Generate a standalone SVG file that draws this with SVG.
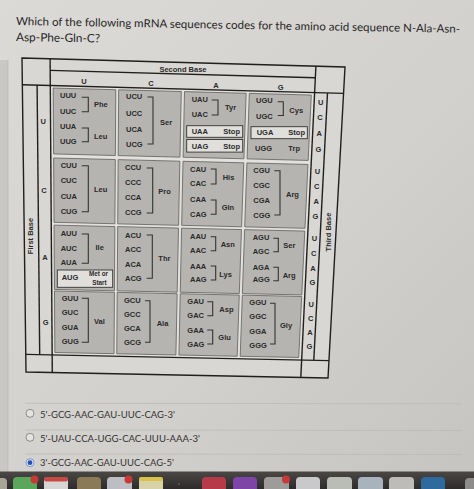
<svg xmlns="http://www.w3.org/2000/svg" width="474" height="489" viewBox="0 0 474 489">
<defs>
<linearGradient id="bg" x1="0" y1="0" x2="1" y2="1">
<stop offset="0" stop-color="#dcdad6"/>
<stop offset="0.55" stop-color="#d3d1cd"/>
<stop offset="1" stop-color="#c6c4c0"/>
</linearGradient>
<linearGradient id="dock" x1="0" y1="0" x2="0" y2="1">
<stop offset="0" stop-color="#4a4745"/>
<stop offset="1" stop-color="#2e2c2b"/>
</linearGradient>
</defs>
<style>
.cell{fill:#b6b4b0;stroke:#6c6a67;stroke-width:0.9}
.frame{fill:none;stroke:#1f1f1f;stroke-width:1.4}
.t{font-family:"Liberation Sans",Arial,sans-serif;font-size:7.5px;font-weight:bold;fill:#2a2a2a}
.s{font-size:6.3px}
.m{text-anchor:middle}
.e{text-anchor:end}
.br{fill:none;stroke:#333;stroke-width:1.1}
.box{fill:#e0dfdc;stroke:#333;stroke-width:0.9}
.q{font-family:Lato,"Open Sans",sans-serif;fill:#262626}
.opt{font-size:9.5px;fill:#333}
.sep{stroke:#bcbab6;stroke-width:0.8}
.icon{stroke:none}
</style>

<rect x="0" y="0" width="474" height="489" fill="url(#bg)"/>
<rect x="0" y="60" width="8" height="412" fill="#cac8c4"/>
<line x1="8" y1="60" x2="8" y2="472" stroke="#bab8b4" stroke-width="0.7"/>

<g id="question" class="q">
<text x="16" y="25" font-size="11.2" textLength="444" lengthAdjust="spacingAndGlyphs" transform="rotate(1 16 25)">Which of the following mRNA sequences codes for the amino acid sequence N-Ala-Asn-</text>
<text x="16" y="41" font-size="11.6" textLength="84" lengthAdjust="spacingAndGlyphs" transform="rotate(1 16 41)">Asp-Phe-Gln-C?</text>
</g>

<g id="table">
<polygon points="22,58 345,67 328,378 26,372" fill="#d8d7d3"/>
<polygon points="50.3,85.5 314.7,92.7 301.7,360 52.2,355" fill="#e2e1de"/>
</g>

<g id="cells">
<g id="cell-UU"><polygon class="cell" points="53.19,88.04 115.80,89.74 115.35,155.50 53.61,153.92"/>
<text class="t" x="60" y="97.7">UUU</text><text class="t" x="60" y="113.7">UUC</text><text class="t" x="60" y="129.4">UUA</text><text class="t" x="60" y="144.4">UUG</text>
<path class="br" d="M81.7 97.3H88.3V111.7H81.7"/><text class="t" x="94" y="107">Phe</text>
<path class="br" d="M81.7 128H88.3V141.7H81.7"/><text class="t" x="94" y="138.7">Leu</text></g>
<g id="cell-UC"><polygon class="cell" points="118.69,89.82 181.29,91.52 179.95,157.15 118.20,155.57"/>
<text class="t" x="126" y="99.4">UCU</text><text class="t" x="126" y="116">UCC</text><text class="t" x="126" y="131.7">UCA</text><text class="t" x="126" y="147">UCG</text>
<path class="br" d="M147.5 97H153V144H147.5"/><text class="t" x="160" y="125">Ser</text></g>
<g id="cell-UA"><polygon class="cell" points="184.50,91.61 246.14,93.28 243.90,158.78 183.11,157.23"/>
<text class="t" x="191.7" y="101.7">UAU</text><text class="t" x="191.7" y="117">UAC</text>
<path class="br" d="M211.7 100H218V115H211.7"/><text class="t" x="225" y="110.4">Tyr</text>
<rect class="box" x="186.7" y="125.7" width="56" height="11.6"/><text class="t" x="191.7" y="133.8">UAA</text><text class="t e" x="240" y="134.4">Stop</text>
<rect class="box" x="186.7" y="139.5" width="56" height="12.6"/><text class="t" x="191.7" y="148.7">UAG</text><text class="t e" x="240" y="149.2">Stop</text></g>
<g id="cell-UG"><polygon class="cell" points="249.35,93.37 311.31,95.05 308.18,160.42 247.07,158.86"/>
<text class="t" x="256" y="103.4">UGU</text><text class="t" x="256" y="118.7">UGC</text>
<path class="br" d="M277.7 101.7H283.3V115.5H277.7"/><text class="t" x="289.3" y="112.7">Cys</text>
<rect class="box" x="251" y="126.7" width="56.3" height="12"/><text class="t" x="256.7" y="135">UGA</text><text class="t e" x="305" y="135.4">Stop</text>
<text class="t" x="255" y="151">UGG</text><text class="t" x="288.3" y="151">Trp</text></g>

<g id="cell-CU"><polygon class="cell" points="53.63,158.00 115.33,159.57 114.89,223.76 54.04,222.31"/>
<text class="t" x="60.7" y="168.4">CUU</text><text class="t" x="60.7" y="183.4">CUC</text><text class="t" x="60.7" y="198.7">CUA</text><text class="t" x="60.7" y="213.7">CUG</text>
<path class="br" d="M81.7 165.7H88.3V211.7H81.7"/><text class="t" x="94" y="192">Leu</text></g>
<g id="cell-CC"><polygon class="cell" points="118.17,159.64 179.86,161.21 178.55,225.29 117.70,223.83"/>
<text class="t" x="125" y="170">CCU</text><text class="t" x="125" y="185">CCC</text><text class="t" x="125" y="200">CCA</text><text class="t" x="125" y="215">CCG</text>
<path class="br" d="M146.7 168H152.7V213H146.7"/><text class="t" x="158.3" y="193.7">Pro</text></g>
<g id="cell-CA"><polygon class="cell" points="183.03,161.29 243.77,162.84 241.59,226.78 181.67,225.35"/>
<text class="t" x="190" y="171.7">CAU</text><text class="t" x="190" y="186">CAC</text>
<path class="br" d="M210.7 169H216V184H210.7"/><text class="t" x="222.7" y="180.4">His</text>
<text class="t" x="190" y="202">CAA</text><text class="t" x="190" y="216.7">CAG</text>
<path class="br" d="M210.7 200H216V214.3H210.7"/><text class="t" x="221.7" y="210.4">Gln</text></g>
<g id="cell-CG"><polygon class="cell" points="246.93,162.92 307.99,164.47 304.94,228.29 244.71,226.85"/>
<text class="t" x="253.3" y="173.4">CGU</text><text class="t" x="253.3" y="188.4">CGC</text><text class="t" x="253.3" y="203.4">CGA</text><text class="t" x="253.3" y="218.4">CGG</text>
<path class="br" d="M274.3 170.7H280V215H274.3"/><text class="t" x="286" y="196.7">Arg</text></g>

<g id="cell-AU"><polygon class="cell" points="54.06,225.13 114.87,226.58 114.44,290.77 54.47,289.44"/>
<text class="t" x="60.7" y="236">AUU</text><text class="t" x="60.7" y="251">AUC</text><text class="t" x="60.7" y="265.4">AUA</text>
<path class="br" d="M81.7 234H88.3V263.3H81.7"/><text class="t" x="95.5" y="250.4">Ile</text>
<rect class="box" x="57.3" y="270" width="55.4" height="17.3"/><text class="t" x="61.7" y="280.3">AUG</text>
<text class="t s m" x="98.5" y="276">Met or</text><text class="t s m" x="99.5" y="285.2">Start</text></g>
<g id="cell-AC"><polygon class="cell" points="117.68,226.64 178.50,228.09 177.18,292.15 117.21,290.83"/>
<text class="t" x="125" y="237.7">ACU</text><text class="t" x="125" y="252">ACC</text><text class="t" x="125" y="266.7">ACA</text><text class="t" x="125" y="281">ACG</text>
<path class="br" d="M146.7 235H152.3V278.3H146.7"/><text class="t" x="158.3" y="261">Thr</text></g>
<g id="cell-AA"><polygon class="cell" points="181.61,228.16 241.49,229.58 239.31,293.53 180.26,292.22"/>
<text class="t" x="190" y="238.7">AAU</text><text class="t" x="190" y="253.4">AAC</text>
<path class="br" d="M210.7 236.7H215.7V250.7H210.7"/><text class="t" x="220.7" y="247.4">Asn</text>
<text class="t" x="190" y="269.4">AAA</text><text class="t" x="190" y="282">AAG</text>
<path class="br" d="M210.7 266H215.7V280H210.7"/><text class="t" x="219.3" y="277">Lys</text></g>
<g id="cell-AG"><polygon class="cell" points="244.61,229.66 304.80,231.09 301.75,294.91 242.39,293.59"/>
<text class="t" x="252.7" y="240">AGU</text><text class="t" x="252.7" y="254.4">AGC</text>
<path class="br" d="M273.3 238.3H278.3V251.7H273.3"/><text class="t" x="283.3" y="248.4">Ser</text>
<text class="t" x="252.7" y="270">AGA</text><text class="t" x="252.7" y="282">AGG</text>
<path class="br" d="M273.3 267.3H278.3V280.7H273.3"/><text class="t" x="282.7" y="278.4">Arg</text></g>

<g id="cell-GU"><polygon class="cell" points="54.48,291.01 114.43,292.33 114.02,353.71 54.87,352.50"/>
<text class="t" x="61.7" y="301">GUU</text><text class="t" x="61.7" y="315.4">GUC</text><text class="t" x="61.7" y="329.7">GUA</text><text class="t" x="61.7" y="344">GUG</text>
<path class="br" d="M81.7 298.3H88.3V342.3H81.7"/><text class="t" x="94" y="323.7">Val</text></g>
<g id="cell-GC"><polygon class="cell" points="117.20,292.39 177.15,293.72 175.90,354.97 116.75,353.76"/>
<text class="t" x="124" y="302.7">GCU</text><text class="t" x="124" y="317">GCC</text><text class="t" x="124" y="331">GCA</text><text class="t" x="124" y="345">GCG</text>
<path class="br" d="M145 300.7H150V342.3H145"/><text class="t" x="156.7" y="326">Ala</text></g>
<g id="cell-GA"><polygon class="cell" points="180.23,293.78 239.26,295.09 237.18,356.22 178.93,355.03"/>
<text class="t" x="187.3" y="304.4">GAU</text><text class="t" x="187.3" y="318.4">GAC</text>
<path class="br" d="M207.3 301.7H212.7V315.7H207.3"/><text class="t" x="219.3" y="312">Asp</text>
<text class="t" x="187.3" y="332.7">GAA</text><text class="t" x="187.3" y="346.7">GAG</text>
<path class="br" d="M207.3 330H212.7V344H207.3"/><text class="t" x="218.3" y="340.4">Glu</text></g>
<g id="cell-GG"><polygon class="cell" points="242.33,295.15 301.67,296.46 298.75,357.48 240.21,356.28"/>
<text class="t" x="249.3" y="305.4">GGU</text><text class="t" x="249.3" y="319.4">GGC</text><text class="t" x="249.3" y="333.7">GGA</text><text class="t" x="249.3" y="348">GGG</text>
<path class="br" d="M270 303.3H275V344H270"/><text class="t" x="280" y="327.7">Gly</text></g>
</g>

<g id="frame-lines" class="frame">
<polygon points="22,58 345,67 328,378 26,372"/>
<line x1="50.1" y1="58.8" x2="52.3" y2="372.5"/>
<line x1="315.9" y1="66.2" x2="300.8" y2="377.5"/>
<line x1="50.2" y1="70.4" x2="315.4" y2="77.7"/>
<line x1="22.3" y1="84.7" x2="343.6" y2="93.4"/>
<line x1="25.8" y1="354.4" x2="329" y2="360.6"/>
<line x1="37.1" y1="85.1" x2="39.7" y2="354.7"/>
<line x1="327.5" y1="93" x2="313.8" y2="360.3"/>
</g>

<g id="headers">
<text class="t m" x="183" y="72">Second Base</text>
<text class="t m" x="84" y="84.4">U</text>
<text class="t m" x="151" y="86.4">C</text>
<text class="t m" x="216" y="87.7">A</text>
<text class="t m" x="280.7" y="89.7">G</text>
<text class="t m" transform="translate(33,236) rotate(-90)">First Base</text>
<text class="t m" x="43.3" y="123.7">U</text>
<text class="t m" x="44" y="192.7">C</text>
<text class="t m" x="45" y="260">A</text>
<text class="t m" x="45.7" y="325.4">G</text>
<text class="t m" transform="translate(331,232) rotate(-90)">Third Base</text>
<text class="t m" x="320.7" y="105.4">U</text>
<text class="t m" x="320" y="120.4">C</text>
<text class="t m" x="319.3" y="135.7">A</text>
<text class="t m" x="318.5" y="151.7">G</text>
<text class="t m" x="317.5" y="174.4">U</text>
<text class="t m" x="316.8" y="189.4">C</text>
<text class="t m" x="316.1" y="204.4">A</text>
<text class="t m" x="315.4" y="219.4">G</text>
<text class="t m" x="314.4" y="240.7">U</text>
<text class="t m" x="313.7" y="255.7">C</text>
<text class="t m" x="313" y="270.7">A</text>
<text class="t m" x="312.3" y="285.4">G</text>
<text class="t m" x="311.3" y="306.7">U</text>
<text class="t m" x="310.6" y="320.7">C</text>
<text class="t m" x="309.9" y="335.4">A</text>
<text class="t m" x="309.3" y="348.7">G</text>
</g>

<g id="options">
<line class="sep" x1="25" y1="403.3" x2="462" y2="403.8"/>
<line class="sep" x1="25" y1="430" x2="462" y2="430.5"/>
<line class="sep" x1="25" y1="454" x2="462" y2="454.5"/>
<g id="opt1"><circle cx="30" cy="413.3" r="4" fill="#e4e3e0" stroke="#7a7875" stroke-width="0.8"/>
<text class="q opt" x="40" y="417.6" textLength="135" lengthAdjust="spacingAndGlyphs">5'-GCG-AAC-GAU-UUC-CAG-3'</text></g>
<g id="opt2"><circle cx="30" cy="437.3" r="4" fill="#e4e3e0" stroke="#7a7875" stroke-width="0.8"/>
<text class="q opt" x="40" y="441.6" textLength="160" lengthAdjust="spacingAndGlyphs">5'-UAU-CCA-UGG-CAC-UUU-AAA-3'</text></g>
<g id="opt3"><circle cx="30" cy="462.7" r="4" fill="#dfe3ea" stroke="#6b86c4" stroke-width="0.8"/><circle cx="30" cy="462.7" r="2.4" fill="#2350c0"/>
<text class="q opt" x="40" y="466" textLength="134" lengthAdjust="spacingAndGlyphs">3'-GCG-AAC-GAU-UUC-CAG-5'</text></g>
</g>

<g id="dock">
<rect x="0" y="471.5" width="474" height="17.5" fill="url(#dock)"/>
<rect class="icon" x="-6" y="478" width="13" height="16" rx="4" fill="#a9a596"/>
<rect class="icon" x="13" y="477" width="24" height="16" rx="4" fill="#5aa65a"/>
<circle cx="34.5" cy="479.5" r="4" fill="#c43a36"/>
<rect class="icon" x="44" y="477" width="24" height="16" rx="4" fill="#d8d6d4"/>
<rect class="icon" x="44" y="477" width="24" height="4.5" rx="2" fill="#c84a44"/>
<rect class="icon" x="77" y="477" width="24" height="16" rx="4" fill="#8a7a58"/>
<rect class="icon" x="107" y="477" width="25" height="16" rx="4" fill="#bdbdc4"/>
<circle cx="128.5" cy="479.5" r="4" fill="#c43a36"/>
<rect class="icon" x="139" y="477" width="24" height="16" rx="4" fill="#d8d2a8"/>
<rect class="icon" x="139" y="477" width="24" height="4" rx="2" fill="#d9c24a"/>
<circle cx="179" cy="484" r="0.8" fill="#777"/>
<rect class="icon" x="202" y="477" width="24" height="16" rx="4" fill="#b63a48"/>
<rect class="icon" x="233" y="477" width="24" height="16" rx="4" fill="#7f44a8"/>
<rect class="icon" x="264" y="477" width="25" height="16" rx="4" fill="#9e9c9a"/>
<circle cx="286" cy="479.5" r="4" fill="#c43a36"/>
<rect class="icon" x="296" y="477" width="24" height="16" rx="4" fill="#c9c9cc"/>
<rect class="icon" x="327" y="477" width="25" height="16" rx="4" fill="#b9bdb6"/>
<rect class="icon" x="358" y="477" width="25" height="16" rx="4" fill="#a9b3be"/>
<rect class="icon" x="389" y="477" width="25" height="16" rx="4" fill="#bdbcb9"/>
<rect class="icon" x="421" y="477" width="24" height="16" rx="4" fill="#2e6a9e"/>
<rect class="icon" x="465" y="478" width="14" height="16" rx="4" fill="#8d8c8a"/>
</g>
</svg>
